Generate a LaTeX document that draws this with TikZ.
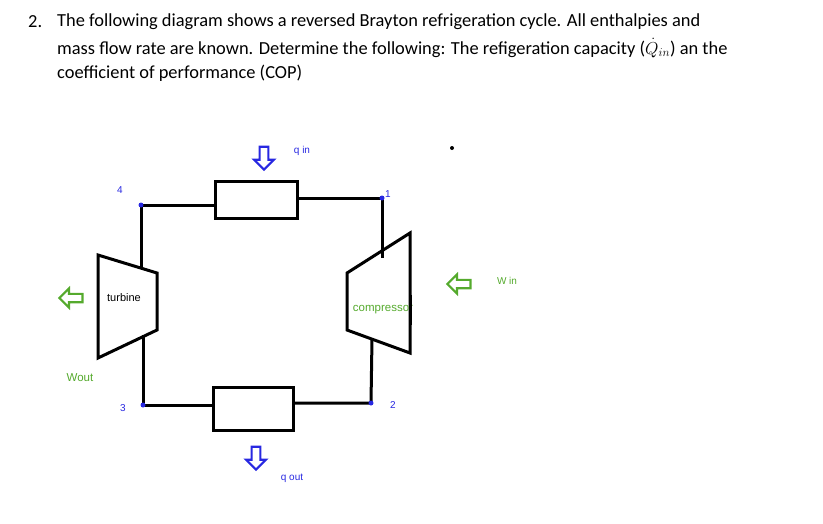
\documentclass[tikz,border=0pt]{standalone}
\usepackage{amsmath}
\usepackage{fontspec}
\setmainfont{Carlito}
\newfontfamily\arialfont{Liberation Sans}
\usetikzlibrary{shapes.arrows}
\definecolor{ptblue}{RGB}{40,40,225}
\definecolor{ptgreen}{RGB}{85,170,45}
\tikzset{
  pipe/.style={line width=3pt},
  ptlabel/.style={font=\arialfont\fontsize{10}{11}\selectfont,inner sep=0pt},
  heatarrow/.style={single arrow,draw=ptblue,line width=2.2pt,minimum height=23pt,
    minimum width=20pt,single arrow head extend=4pt,inner sep=2pt,shape border rotate=270},
  workarrow/.style={single arrow,draw=ptgreen,line width=2.2pt,minimum height=23pt,
    minimum width=19pt,single arrow head extend=4pt,inner sep=2pt,shape border rotate=180},
  dot/.style={circle,fill=ptblue,inner sep=0pt,minimum size=5pt}
}
\begin{document}
\begin{tikzpicture}[x=1pt,y=-1pt]
  \useasboundingbox (0,0) rectangle (823,523);
  % question text
  \node[anchor=west,inner sep=0pt,font=\fontsize{18.4}{22}\selectfont] (num) at (28,22) {2.};
  \node[anchor=west,inner sep=0pt,font=\fontsize{18.4}{22}\selectfont] (l1) at (57,22) {The following diagram shows a reversed Brayton refrigeration cycle. All enthalpies and};
  \node[anchor=west,inner sep=0pt,font=\fontsize{18.4}{22}\selectfont] (l2) at (57,48) {mass flow rate are known. Determine the following: The refigeration capacity ($\dot{Q}_{in}$) an the};
  \node[anchor=west,inner sep=0pt,font=\fontsize{18.4}{22}\selectfont] (l3) at (57,73) {coefficient of performance (COP)};
  \fill (452,148) circle (2);

  % heat exchangers
  \draw[pipe] (215,181) rectangle (297,218);
  \draw[pipe] (213,387) rectangle (293,430);
  \coordinate (hinL) at (215,205);
  \coordinate (hinR) at (297,198);
  \coordinate (houtL) at (213,405);
  \coordinate (houtR) at (293,403);

  % turbine
  \draw[pipe] (98,255) -- (157,273) -- (157,330) -- (98,358) -- cycle;
  \coordinate (tin) at (141,267);
  \coordinate (tout) at (143,335);
  % compressor
  \draw[pipe] (347,273) -- (410,233) -- (410,353) -- (347,330) -- cycle;
  \coordinate (cin) at (382,258);
  \coordinate (cout) at (372,339);

  % state points
  \coordinate (p4) at (141,205);
  \coordinate (p1) at (382,198);
  \coordinate (p3) at (143,405);
  \coordinate (p2) at (371,403);

  \draw[pipe] (p4) -- (hinL);
  \draw[pipe] (hinR) -- (p1) -- (cin);
  \draw[pipe] (cout) -- (p2) -- (houtR);
  \draw[pipe] (houtL) -- (p3) -- (tout);
  \draw[pipe] (tin) -- (p4);
  \foreach \p in {p1,p2,p3,p4} \node[dot] at (\p) {};

  \node[ptlabel,text=ptblue] (n4) at (120,190) {4};
  \node[ptlabel,text=ptblue] (n1) at (388,194) {1};
  \node[ptlabel,text=ptblue] (n3) at (123,408) {3};
  \node[ptlabel,text=ptblue] (n2) at (393,405) {2};

  \node[ptlabel,font=\arialfont\fontsize{11}{12}\selectfont] (turb) at (124,298) {turbine};
  \node[ptlabel,text=ptgreen,font=\arialfont\fontsize{11.5}{12}\selectfont] (comp) at (383,310) {compressor};
  \draw[pipe] (410,295) -- (410,325);
  \node[ptlabel,text=ptgreen,font=\arialfont\fontsize{11.5}{12}\selectfont] (wout) at (80,378) {Wout};
  \node[ptlabel,text=ptgreen] (win) at (507,281) {W in};
  \node[ptlabel,text=ptblue] (qin) at (302,151) {q in};
  \node[ptlabel,text=ptblue] (qout) at (292,478) {q out};

  % hollow arrows
  \node[heatarrow] (aqin) at (264,156) {};
  \node[heatarrow] (aqout) at (256,456) {};
  \node[workarrow] (awout) at (73,298) {};
  \node[workarrow] (awin) at (461,284) {};
\end{tikzpicture}
\end{document}
